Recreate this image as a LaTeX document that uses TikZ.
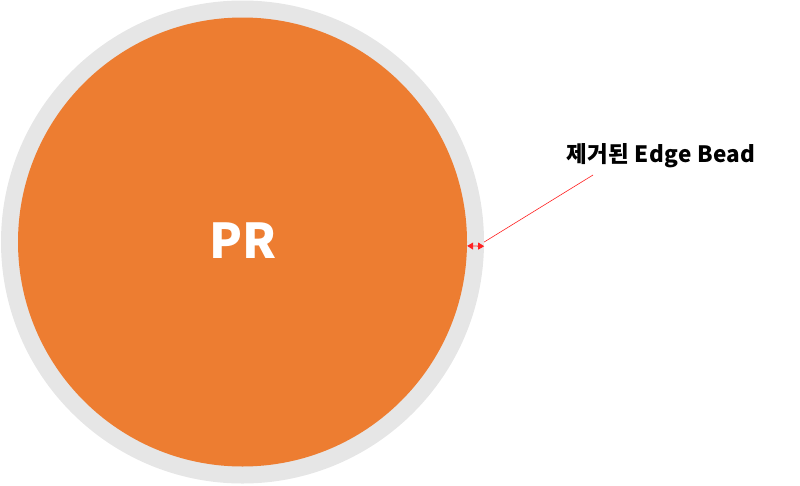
\documentclass[tikz,border=0pt]{standalone}
\usepackage{fontspec}
\newfontfamily\krfont{Noto Sans CJK KR}[LetterSpace=2]
\newfontfamily\prfont{Noto Sans CJK KR}
\usetikzlibrary{arrows.meta}
\definecolor{ringgray}{HTML}{E6E6E6}
\definecolor{prorange}{HTML}{ED7D31}
\definecolor{leadred}{HTML}{FF2020}
\tikzset{
  ring/.style={circle, fill=ringgray, inner sep=0pt, minimum size=483pt},
  resist/.style={circle, fill=prorange, inner sep=0pt, minimum size=449pt},
  prlabel/.style={text=white, font=\prfont\bfseries\fontsize{48}{48}\selectfont, inner sep=0pt},
  lbltext/.style={font=\krfont\bfseries\fontsize{22.5}{22.5}\selectfont, text=black, inner sep=0pt},
  leader/.style={draw=leadred, line width=0.6pt},
  gaparrow/.style={draw=leadred, line width=0.8pt, {Triangle[length=6pt,width=7pt]}-{Triangle[length=6pt,width=7pt]}}
}
\begin{document}
\begin{tikzpicture}[x=1pt,y=-1pt]
\useasboundingbox (0,0) rectangle (800,485);
\node[ring] (wafer) at (242.5,242) {};
\node[resist] (pr) at (242.5,242) {};
\node[prlabel] (prtext) at (243,241) {PR};
\node[lbltext] (lbl) at (661,156) {제거된 Edge Bead};
\coordinate (lend) at (593,175);
\draw[gaparrow] (pr.-1) -- (wafer.-1);
\draw[leader] (wafer.-0.3) -- (lend);
\end{tikzpicture}
\end{document}
